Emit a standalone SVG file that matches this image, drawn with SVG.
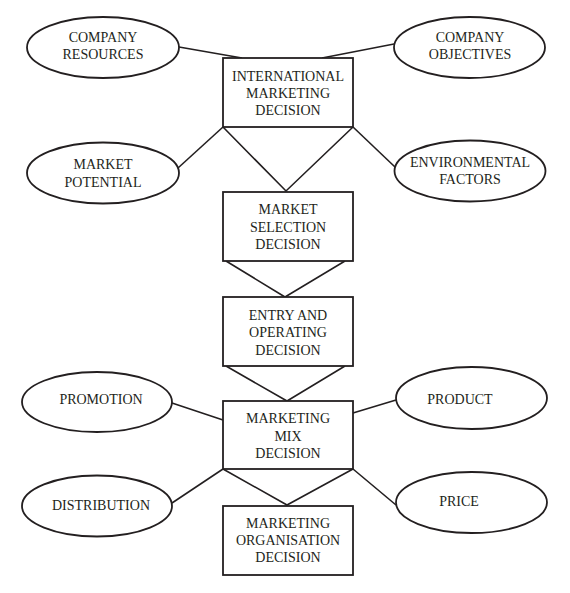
<svg xmlns="http://www.w3.org/2000/svg" width="570" height="593" viewBox="0 0 570 593">
<style>
.shape{fill:#fff;stroke:#231f20;stroke-width:1.8}
.conn line,.conn polyline{fill:none;stroke:#231f20;stroke-width:1.6}
text{font-family:"Liberation Serif","Times New Roman",serif;font-size:14px;fill:#231f20;text-anchor:middle}
</style>
<rect width="570" height="593" fill="#fff"/>
<g id="connectors" class="conn">
<line x1="179" y1="47" x2="242" y2="58"/>
<line x1="394" y1="44" x2="322" y2="58"/>
<line x1="223" y1="127" x2="178" y2="168"/>
<line x1="353" y1="127" x2="395" y2="167"/>
<polyline points="223,127 286,191 353,127"/>
<polyline points="226,261 285,297 345,261"/>
<polyline points="226,366 287,401 345,366"/>
<line x1="172" y1="403" x2="223" y2="420"/>
<line x1="353" y1="413" x2="396" y2="400"/>
<line x1="223" y1="469" x2="172" y2="503"/>
<line x1="353" y1="469" x2="396" y2="505"/>
<polyline points="223,469 287,505 353,469"/>
</g>
<g id="company-resources"><ellipse class="shape" cx="103" cy="47.5" rx="76" ry="30.5"/><text x="103" y="42">COMPANY</text><text x="103" y="59">RESOURCES</text></g>
<g id="company-objectives"><ellipse class="shape" cx="469.5" cy="47.5" rx="75.5" ry="30.5"/><text x="470" y="42">COMPANY</text><text x="470" y="59">OBJECTIVES</text></g>
<g id="international-marketing-decision"><rect class="shape" x="223" y="58" width="130" height="69"/><text x="288" y="81">INTERNATIONAL</text><text x="288" y="98">MARKETING</text><text x="288" y="115">DECISION</text></g>
<g id="market-potential"><ellipse class="shape" cx="103" cy="173" rx="76" ry="30.5"/><text x="103" y="169">MARKET</text><text x="103" y="187">POTENTIAL</text></g>
<g id="environmental-factors"><ellipse class="shape" cx="470" cy="171" rx="75.5" ry="30.5"/><text x="470" y="167">ENVIRONMENTAL</text><text x="470" y="184">FACTORS</text></g>
<g id="market-selection-decision"><rect class="shape" x="223" y="192" width="130" height="69"/><text x="288" y="214">MARKET</text><text x="288" y="232">SELECTION</text><text x="288" y="249">DECISION</text></g>
<g id="entry-operating-decision"><rect class="shape" x="223" y="297" width="130" height="69"/><text x="288" y="320">ENTRY AND</text><text x="288" y="337">OPERATING</text><text x="288" y="355">DECISION</text></g>
<g id="promotion"><ellipse class="shape" cx="97" cy="402" rx="75" ry="30"/><text x="101" y="404">PROMOTION</text></g>
<g id="product"><ellipse class="shape" cx="471.5" cy="398" rx="75.5" ry="31"/><text x="460" y="404">PRODUCT</text></g>
<g id="marketing-mix-decision"><rect class="shape" x="223" y="401" width="130" height="68"/><text x="288" y="423">MARKETING</text><text x="288" y="441">MIX</text><text x="288" y="458">DECISION</text></g>
<g id="distribution"><ellipse class="shape" cx="97" cy="506" rx="75" ry="30.5"/><text x="101" y="510">DISTRIBUTION</text></g>
<g id="price"><ellipse class="shape" cx="471.5" cy="502.5" rx="75.5" ry="30.5"/><text x="459" y="506">PRICE</text></g>
<g id="marketing-organisation-decision"><rect class="shape" x="223" y="506" width="130" height="69"/><text x="288" y="528">MARKETING</text><text x="288" y="545">ORGANISATION</text><text x="288" y="562">DECISION</text></g>
</svg>
